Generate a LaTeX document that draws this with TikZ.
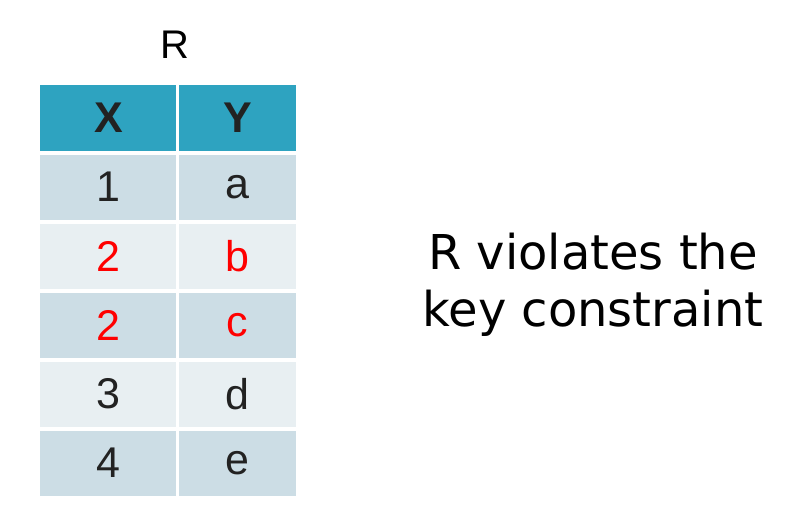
\documentclass[tikz,border=0pt]{standalone}
\usepackage{fontspec}
\setmainfont{Liberation Sans}
\newfontfamily\dvs{DejaVu Sans}
\definecolor{hdr}{HTML}{2EA3C0}
\definecolor{rowa}{HTML}{CCDDE5}
\definecolor{rowb}{HTML}{E8EFF2}
\definecolor{txt}{HTML}{222222}
\begin{document}
\begin{tikzpicture}[x=1pt,y=-1pt,
 cell/.style={minimum height=66pt,inner sep=0pt,font=\fontsize{43}{45}\selectfont,text=txt},
 cx/.style={minimum width=137pt},cy/.style={minimum width=117pt},
 hcell/.style={fill=hdr,font=\fontsize{43}{45}\selectfont\bfseries},
 ra/.style={fill=rowa},rb/.style={fill=rowb},red/.style={text=red}]
\useasboundingbox (0,0) rectangle (788,531);
\node (title) at (175,45) {\fontsize{40}{42}\selectfont R};
\node[cell,cx,hcell] (hx) at (108.5,118) {X};
\node[cell,cy,hcell] (hy) at (237.5,118) {Y};
\node[cell,cx,ra] (x1) at (108.5,187) {1}; \node[cell,cy,ra] (y1) at (237.5,187) {a};
\node[cell,cx,rb,red] (x2) at (108.5,256) {2}; \node[cell,cy,rb,red] (y2) at (237.5,256) {b};
\node[cell,cx,ra,red] (x3) at (108.5,325) {2}; \node[cell,cy,ra,red] (y3) at (237.5,325) {c};
\node[cell,cx,rb] (x4) at (108.5,394) {3}; \node[cell,cy,rb] (y4) at (237.5,394) {d};
\node[cell,cx,ra] (x5) at (108.5,463) {4}; \node[cell,cy,ra] (y5) at (237.5,463) {e};
\foreach \i in {1,...,5}{\draw[white,line width=2pt] (x\i.north west)--(y\i.north east);}
\draw[white,line width=2pt] (hx.north east) -- (x5.south east);
\node[align=center,font=\dvs\fontsize{48}{57}\selectfont] (msg) at (593,285) {R violates the\\key constraint};
\end{tikzpicture}
\end{document}
